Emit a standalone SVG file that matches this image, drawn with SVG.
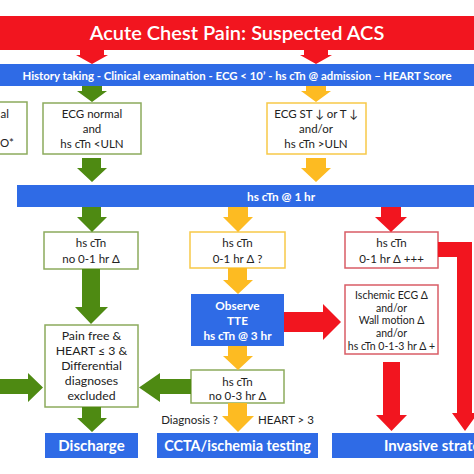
<svg xmlns="http://www.w3.org/2000/svg" width="474" height="474" viewBox="0 0 474 474">
<style>
.t{font-family:Lato,"Open Sans","Liberation Sans",sans-serif;fill:#222;font-size:11.5px;text-anchor:middle}
.s{font-size:10.5px}
.p{font-size:12.3px}
.w{font-family:Lato,"Open Sans","Liberation Sans",sans-serif;fill:#fff;font-weight:bold;text-anchor:middle}
.bx{fill:#fff;stroke-width:1.5}
.g{stroke:#8cab5c}.o{stroke:#f7c948}.r{stroke:#d95c66}
.blue{fill:#2f6be6}
.ag{fill:#4e8a12}.ao{fill:#fdbb22}.ar{fill:#f2151f}
</style>
<rect width="474" height="474" fill="#fff"/>
<g id="banner">
<rect x="0" y="16" width="474" height="34" class="ar"/>
<text x="237" y="40" class="w" style="font-weight:600" font-size="20">Acute Chest Pain: Suspected ACS</text>
</g>
<g id="history">
<rect x="0" y="64" width="474" height="22" class="blue"/>
<text x="237" y="79.5" class="w" font-size="11.4">History taking - Clinical examination - ECG &lt; 10’ - hs cTn @ admission – HEART Score</text>
</g>
<g id="left-cut">
<rect x="-20" y="102" width="47" height="52" class="bx g"/>
<text x="9" y="118" class="t" style="text-anchor:end">al</text>
<text x="14" y="147" class="t" style="text-anchor:end">O*</text>
</g>
<g id="ecg-normal">
<rect x="43" y="103" width="98" height="51" class="bx g"/>
<text x="92" y="118" class="t">ECG normal</text>
<text x="92" y="133" class="t">and</text>
<text x="92" y="148" class="t">hs cTn &lt;ULN</text>
</g>
<g id="ecg-st">
<rect x="267" y="103" width="99" height="51" class="bx o"/>
<text x="316" y="118" class="t">ECG ST ↓ or T ↓</text>
<text x="316" y="133" class="t">and/or</text>
<text x="316" y="148" class="t">hs cTn &gt;ULN</text>
</g>
<g id="bar-1hr">
<rect x="17" y="185" width="457" height="22" class="blue"/>
<text x="247" y="200.5" class="w" font-size="11.8" style="text-anchor:start">hs cTn @ 1 hr</text>
</g>
<g id="no-delta">
<rect x="44" y="232" width="94" height="37" class="bx g"/>
<text x="91" y="247" class="t">hs cTn</text>
<text x="91" y="263" class="t">no 0-1 hr Δ</text>
</g>
<g id="delta-q">
<rect x="190" y="232" width="95" height="36" class="bx o"/>
<text x="237.5" y="247" class="t">hs cTn</text>
<text x="237.5" y="263" class="t">0-1 hr Δ ?</text>
</g>
<g id="delta-plus">
<rect x="345" y="232" width="93" height="36" class="bx r"/>
<text x="391.5" y="247" class="t">hs cTn</text>
<text x="391.5" y="263" class="t">0-1 hr Δ +++</text>
</g>
<g id="observe">
<rect x="191" y="294" width="93" height="52" class="blue"/>
<text x="237.5" y="310" class="w" font-size="11.8">Observe</text>
<text x="237.5" y="325" class="w" font-size="11.8">TTE</text>
<text x="237.5" y="340" class="w" font-size="11.8">hs cTn @ 3 hr</text>
</g>
<g id="ischemic">
<rect x="345" y="285" width="93" height="69" class="bx r"/>
<text x="391.5" y="298.5" class="t s">Ischemic ECG Δ</text>
<text x="391.5" y="311.5" class="t s">and/or</text>
<text x="391.5" y="324" class="t s">Wall motion Δ</text>
<text x="391.5" y="337" class="t s">and/or</text>
<text x="391.5" y="349.5" class="t s">hs cTn 0-1-3 hr Δ +</text>
</g>
<g id="pain-free">
<rect x="45" y="325" width="93" height="82" class="bx g"/>
<text x="91.5" y="340" class="t p">Pain free &amp;</text>
<text x="91.5" y="355" class="t p">HEART ≤ 3 &amp;</text>
<text x="91.5" y="370" class="t p">Differential</text>
<text x="91.5" y="385" class="t p">diagnoses</text>
<text x="91.5" y="399.5" class="t p">excluded</text>
</g>
<g id="no-03">
<rect x="191" y="370" width="93" height="33" class="bx g"/>
<text x="237.5" y="386" class="t">hs cTn</text>
<text x="237.5" y="400" class="t">no 0-3 hr Δ</text>
</g>
<g id="discharge">
<rect x="45" y="433" width="93" height="25" class="blue"/>
<text x="91.5" y="451" class="w" font-size="15">Discharge</text>
</g>
<g id="ccta">
<rect x="157" y="433" width="161" height="25" class="blue"/>
<text x="237.5" y="451" class="w" font-size="14.4">CCTA/ischemia testing</text>
</g>
<g id="invasive">
<rect x="332" y="433" width="150" height="25" class="blue"/>
<text x="384" y="451" class="w" font-size="15" style="text-anchor:start">Invasive strategy</text>
</g>
<g id="connectors">
<path class="ar" d="M80,50H104V55H108L92,64L76,55H80Z"/>
<path class="ar" d="M304,50H328V55H332L316,64L300,55H304Z"/>
<path class="ag" d="M82,86H102V91H107L92,102L77,91H82Z"/>
<path class="ao" d="M306,86H326V91H331L316,102L301,91H306Z"/>
<path class="ag" d="M82,158H101V168H107L92,182L77,168H82Z"/>
<path class="ao" d="M306,158H326V168H331L316,182L301,168H306Z"/>
<path class="ag" d="M82,207H101V217H107L92,232L77,217H82Z"/>
<path class="ao" d="M228,207H248V217H253L238,232L223,217H228Z"/>
<path class="ar" d="M381,207H401V217H407L391,232L375,217H381Z"/>
<path class="ag" d="M82,269H100V307H108L91,324L75,307H82Z"/>
<path class="ao" d="M228,268H247V280H253L238,294L223,280H228Z"/>
<path class="ao" d="M228,346H247V356H253L238,370L223,356H228Z"/>
<path class="ao" d="M228,403H247V416H254L238,432L222,416H228Z"/>
<path class="ag" d="M82,407H101V418H107L92,432L77,418H82Z"/>
<path class="ar" d="M383,362H400V415H407L391.5,431L376,415H383Z"/>
<path class="ar" d="M438,242H472V413H478L465,431L452,413H457V257H438Z"/>
<path class="ar" d="M284,312H323V304L341,322L323,340V332H284Z"/>
<path class="ag" d="M0,379H28V373L43,387.5L28,402V394H0Z"/>
<path class="ag" d="M191,379H160V373L139,387.5L160,402V394H191Z"/>
<text x="218" y="424" class="t" style="text-anchor:end">Diagnosis ?</text>
<text x="258" y="424" class="t" style="text-anchor:start">HEART &gt; 3</text>
</g>
</svg>
